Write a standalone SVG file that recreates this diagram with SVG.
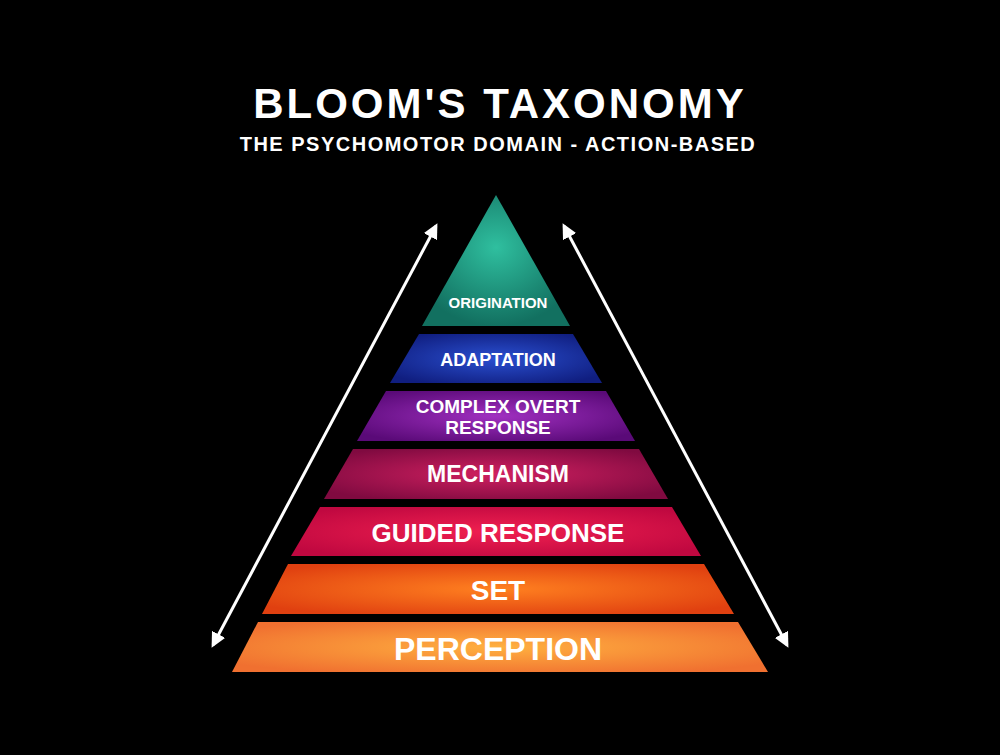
<svg xmlns="http://www.w3.org/2000/svg" width="1000" height="755" viewBox="0 0 1000 755">
<defs>
<style>
text{font-family:"Liberation Sans",Arial,sans-serif;font-weight:bold;fill:#fff;text-anchor:middle}
.l{stroke:#fff;stroke-width:3}
</style>
<marker id="a" viewBox="0 0 10 10" refX="8" refY="5" markerWidth="5" markerHeight="5" orient="auto-start-reverse"><path d="M0,0L10,5L0,10z" fill="#fff"/></marker>
<radialGradient id="g1" cx="0.5" cy="0.4" r="0.6"><stop offset="0" stop-color="#2fbf9f"/><stop offset="1" stop-color="#127060"/></radialGradient>
<radialGradient id="g2" cx="0.5" cy="0.5" r="0.6"><stop offset="0" stop-color="#2a4fd0"/><stop offset="1" stop-color="#101e80"/></radialGradient>
<radialGradient id="g3" cx="0.5" cy="0.5" r="0.6"><stop offset="0" stop-color="#a030c0"/><stop offset="1" stop-color="#5a0a78"/></radialGradient>
<radialGradient id="g4" cx="0.5" cy="0.5" r="0.6"><stop offset="0" stop-color="#d02060"/><stop offset="1" stop-color="#800a40"/></radialGradient>
<radialGradient id="g5" cx="0.5" cy="0.5" r="0.6"><stop offset="0" stop-color="#f02050"/><stop offset="1" stop-color="#c00840"/></radialGradient>
<radialGradient id="g6" cx="0.5" cy="0.5" r="0.6"><stop offset="0" stop-color="#ff8020"/><stop offset="1" stop-color="#e04010"/></radialGradient>
<radialGradient id="g7" cx="0.5" cy="0.5" r="0.6"><stop offset="0" stop-color="#ffb040"/><stop offset="1" stop-color="#f07030"/></radialGradient>
</defs>
<rect width="1000" height="755" fill="#000"/>
<text x="500" y="118" font-size="42" letter-spacing="3">BLOOM'S TAXONOMY</text>
<text x="498" y="151" font-size="20" letter-spacing="1.5">THE PSYCHOMOTOR DOMAIN - ACTION-BASED</text>
<g id="connectors">
<line class="l" x1="213" y1="645" x2="436" y2="226" marker-start="url(#a)" marker-end="url(#a)"/>
<line class="l" x1="564" y1="226" x2="787" y2="645" marker-start="url(#a)" marker-end="url(#a)"/>
</g>
<g id="origination"><polygon points="496,195 570,326 422,326" fill="url(#g1)"/><text x="498" y="308" font-size="15">ORIGINATION</text></g>
<g id="adaptation"><polygon points="419,334 573,334 602,383 390,383" fill="url(#g2)"/><text x="498" y="366" font-size="18">ADAPTATION</text></g>
<g id="complex"><polygon points="386,391 606,391 635,441 357,441" fill="url(#g3)"/><text x="498" y="413" font-size="19">COMPLEX OVERT</text><text x="498" y="434" font-size="19">RESPONSE</text></g>
<g id="mechanism"><polygon points="353,449 639,449 668,499 324,499" fill="url(#g4)"/><text x="498" y="482" font-size="23">MECHANISM</text></g>
<g id="guided"><polygon points="320,507 672,507 701,556 291,556" fill="url(#g5)"/><text x="498" y="542" font-size="26">GUIDED RESPONSE</text></g>
<g id="set"><polygon points="288,564 704,564 734,614 262,614" fill="url(#g6)"/><text x="498" y="600" font-size="28">SET</text></g>
<g id="perception"><polygon points="258,622 738,622 768,672 232,672" fill="url(#g7)"/><text x="498" y="660" font-size="32">PERCEPTION</text></g>
</svg>
